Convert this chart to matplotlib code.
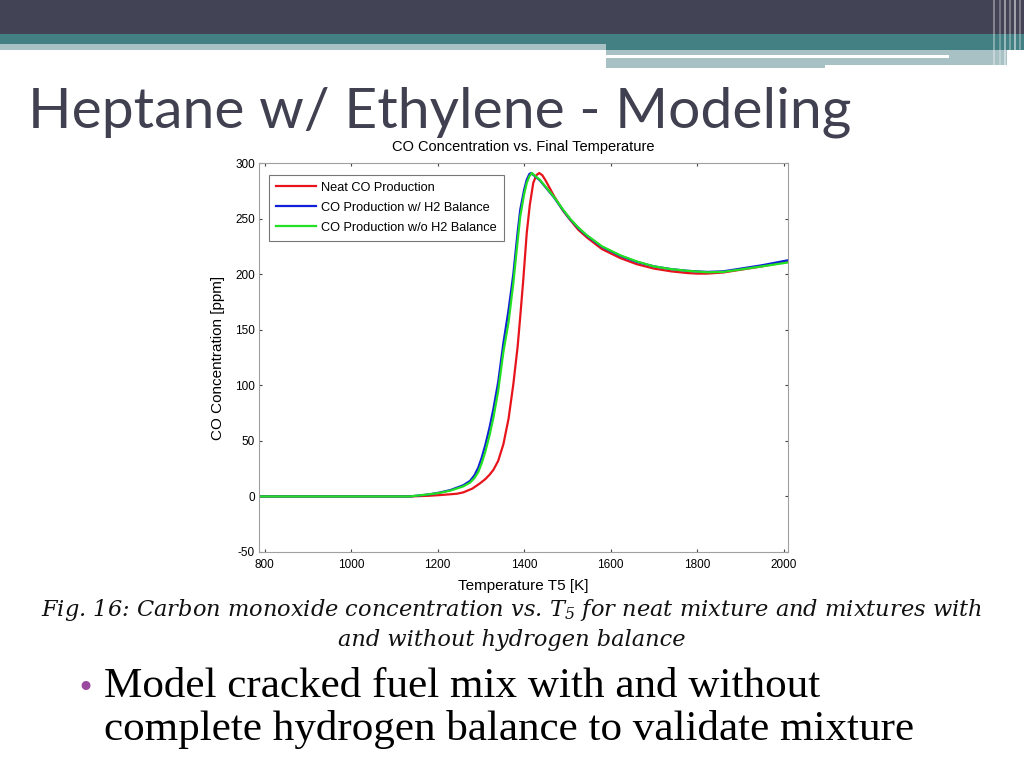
import matplotlib
matplotlib.use("Agg")
import matplotlib.pyplot as plt
from matplotlib.patches import Rectangle

plt.rcParams['mathtext.fontset'] = 'custom'
plt.rcParams['mathtext.it'] = 'DejaVu Serif:italic'
plt.rcParams['mathtext.rm'] = 'DejaVu Serif:italic'
plt.rcParams['axes.unicode_minus'] = False

# data: temperature [K] and CO [ppm]
t_neat = [787, 1000, 1100, 1136, 1180, 1205, 1244, 1259, 1280, 1298, 1310, 1320, 1329, 1340,
          1352, 1364, 1375, 1385, 1391, 1398, 1406, 1413, 1421, 1428, 1435, 1442, 1450,
          1468, 1490, 1506, 1525, 1545, 1580, 1622, 1660, 1700, 1740, 1777, 1800, 1823,
          1860, 1893, 1950, 2010]
co_neat = [0, 0, 0, 0, 0.6, 1.2, 2.4, 3.6, 7.0, 11.8, 15.5, 19.5, 24, 32,
           47, 70, 101, 135, 162, 195, 237, 262, 282, 289, 291, 289, 284,
           271, 257, 249, 240, 233, 222.5, 214.5, 209, 205, 202.5, 201, 200.5, 200.5,
           201.5, 203.5, 207, 211.5]

t_h2 = [787, 1000, 1100, 1136, 1180, 1205, 1230, 1259, 1275, 1285, 1294, 1302, 1310, 1320,
        1329, 1340, 1352, 1364, 1375, 1385, 1391, 1400, 1406, 1412, 1416, 1425, 1436, 1451,
        1468, 1490, 1506, 1525, 1545, 1580, 1622, 1660, 1700, 1740, 1777, 1823, 1860, 1893,
        1950, 2010]
co_h2 = [0, 0, 0, 0, 1.8, 3.5, 5.8, 10, 14, 19, 26, 35, 46, 62,
         79, 103, 138, 168, 200, 238, 258, 276, 285, 290, 291, 288, 284.5, 277.5,
         269.5, 257.5, 249.5, 241.5, 234.5, 224.5, 216.5, 211, 207, 204.5, 203, 202, 202.5,
         204.5, 208, 212.5]

t_noh2 = [787, 1000, 1100, 1136, 1182, 1205, 1230, 1259, 1275, 1285, 1294, 1302, 1310, 1320,
          1329, 1340, 1352, 1364, 1375, 1385, 1391, 1400, 1406, 1412, 1418, 1425, 1436, 1451,
          1468, 1490, 1506, 1525, 1545, 1580, 1622, 1660, 1700, 1740, 1777, 1823, 1860, 1893,
          1950, 2010]
co_noh2 = [0, 0, 0, 0, 2.0, 3.2, 5.3, 9.0, 12.5, 16.5, 22, 30, 40, 55,
           71, 95, 130, 157, 192, 230, 252, 272, 282, 288, 291, 288.5, 285, 278,
           270, 258, 250, 242, 235, 225, 217, 211.5, 207, 204.5, 203, 201.7, 202, 203.8,
           207, 210.5]

x_ticks = [800, 1000, 1200, 1400, 1600, 1800, 2000]
y_ticks = [-50, 0, 50, 100, 150, 200, 250, 300]

W, H = 1024, 768
fig = plt.figure(figsize=(W / 100, H / 100), dpi=100)
fig.patch.set_facecolor('white')


def px(x, y):
    return x / W, 1 - y / H


def band(x0, y0, x1, y1, color, alpha=1.0):
    fig.patches.append(Rectangle(px(x0, y1), (x1 - x0) / W, (y1 - y0) / H,
                                 transform=fig.transFigure, color=color, alpha=alpha,
                                 lw=0, zorder=0))


# slide header
dark = '#434356'
teal = '#438083'
light = '#a8c1c4'
band(0, 0, W, 34, dark)
band(0, 34, W, 44, teal)
band(0, 44, 606, 50, light)
band(606, 44, W, 50, teal)
band(606, 50, 1007, 55, light)
band(606, 55, 949, 58, 'white')
band(949, 55, 1007, 58, light)
band(606, 58, 825, 68, light)
band(825, 58, 1007, 65, light)
for xs, a in [(993, 0.35), (999, 0.25), (1004, 0.45), (1009, 0.3), (1014, 0.5), (1019, 0.3)]:
    band(xs, 0, xs + 2, 68, 'white', a)

fig.text(*px(28, 128), "Heptane w/ Ethylene - Modeling", fontsize=41, family='Lato',
         color='#404050', va='baseline', ha='left')

# chart
ax = fig.add_axes([259 / W, 1 - 552 / H, 529 / W, 389 / H])
ax.plot(t_neat, co_neat, color='#e8141c', lw=1.6, label='Neat CO Production')
ax.plot(t_h2, co_h2, color='#1020d8', lw=1.6, label='CO Production w/ H2 Balance')
ax.plot(t_noh2, co_noh2, color='#22e022', lw=1.6, label='CO Production w/o H2 Balance')
ax.set_xlim(787, 2010)
ax.set_ylim(-50, 300)
ax.set_xticks(x_ticks)
ax.set_yticks(y_ticks)
for s in ax.spines.values():
    s.set_color('#a0a0a0')
    s.set_linewidth(0.8)
ax.tick_params(direction='in', length=2.5, width=0.8, color='#444444', labelsize=8.5,
               top=True, right=True)
ax.tick_params(axis='x', pad=5)
ax.tick_params(axis='y', pad=3)
for lab in ax.get_xticklabels() + ax.get_yticklabels():
    lab.set_family('Liberation Sans')
ax.set_title('CO Concentration vs. Final Temperature', fontsize=10.5,
             family='Liberation Sans', pad=9)
ax.set_xlabel('Temperature T5 [K]', fontsize=11, family='Liberation Sans', labelpad=6)
ax.set_ylabel('CO Concentration [ppm]', fontsize=11, family='Liberation Sans', labelpad=7)
leg = ax.legend(loc='upper left', bbox_to_anchor=(0.019, 0.97),
                prop={'family': 'Liberation Sans', 'size': 9.2}, fancybox=False,
                framealpha=1, edgecolor='#777777', handlelength=3.1, handletextpad=0.4,
                borderpad=0.55, labelspacing=0.62, borderaxespad=0)
leg.get_frame().set_linewidth(0.8)

# caption
fig.text(*px(511, 616), r"Fig. 16: Carbon monoxide concentration vs. $T_5$ for neat mixture and mixtures with",
         fontsize=16.2, family='DejaVu Serif', style='italic', ha='center', va='baseline',
         color='#111111')
fig.text(*px(512, 646), "and without hydrogen balance",
         fontsize=16.2, family='DejaVu Serif', style='italic', ha='center', va='baseline',
         color='#111111')

# bullet
fig.text(*px(76, 697), u"\u2022", fontsize=22, color='#9a4a9e', ha='left', va='baseline')
fig.text(*px(104, 697), "Model cracked fuel mix with and without", fontsize=31.1,
         family='Liberation Serif', ha='left', va='baseline', color='black')
fig.text(*px(104, 740), "complete hydrogen balance to validate mixture", fontsize=31.1,
         family='Liberation Serif', ha='left', va='baseline', color='black')

fig.savefig('out.png', dpi=100)
